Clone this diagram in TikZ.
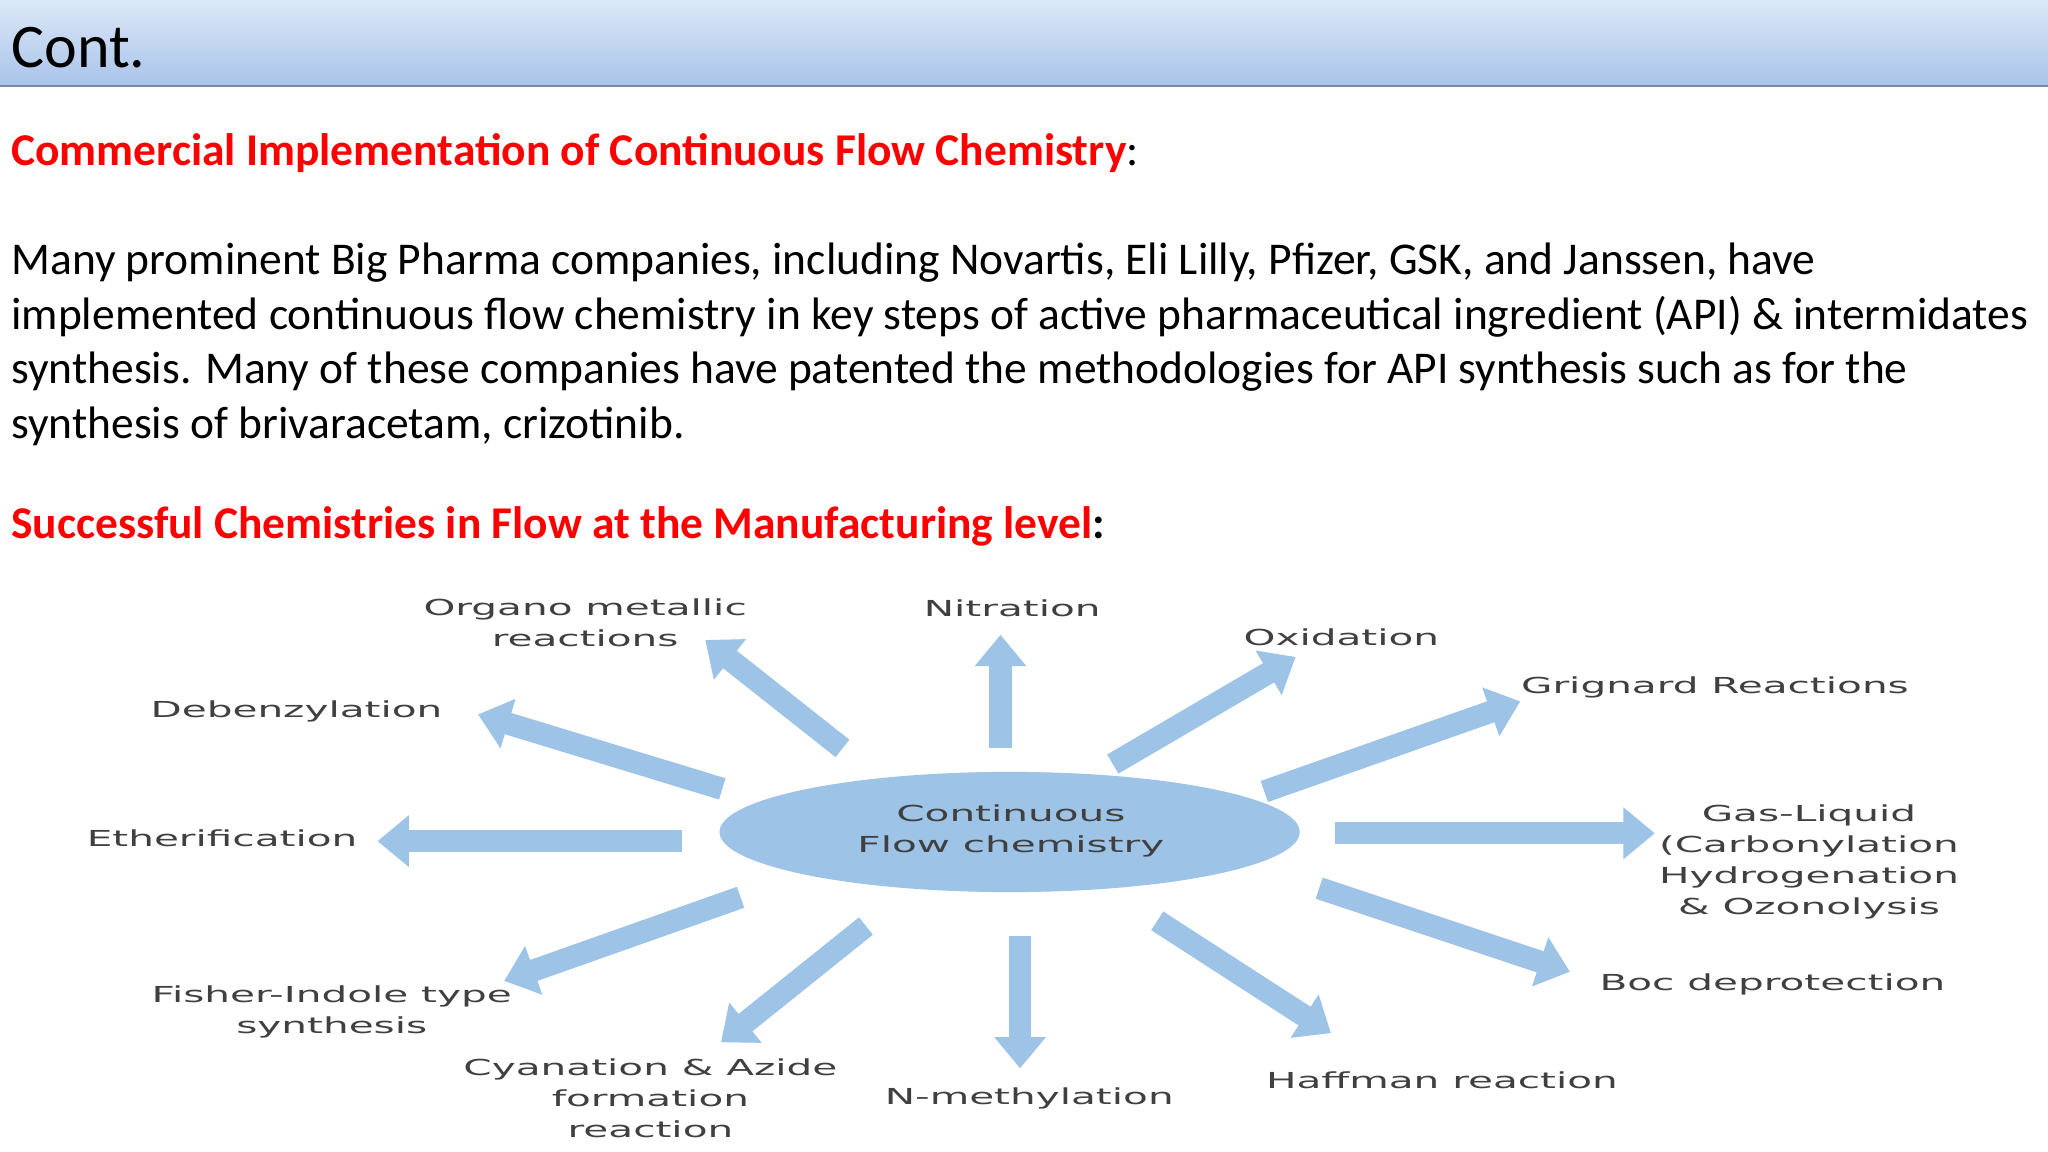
\documentclass[tikz,border=0pt]{standalone}
\usepackage{fontspec}
\setmainfont{Carlito}
\newfontfamily\lblfont{DejaVu Sans}
\usetikzlibrary{arrows.meta,shapes.geometric}
\definecolor{arrowblue}{HTML}{9DC3E6}
\definecolor{lblgray}{HTML}{404040}
\definecolor{hdtop}{HTML}{DCE8F8}
\definecolor{hdbot}{HTML}{A9C3EA}
\tikzset{
  flowarrow/.style={draw=arrowblue,line width=0.17cm,-{Triangle[width=0.38cm,length=0.24cm]}},
  lbl/.style={font=\lblfont\fontsize{4.8}{6.8}\selectfont,text=lblgray,align=center,inner sep=0},
  bodyline/.style={anchor=base west,font=\fontsize{9.9}{11}\selectfont,inner sep=0},
  redhead/.style={anchor=base west,font=\fontsize{9.9}{11}\selectfont\bfseries,inner sep=0},
}
\newcommand{\wide}[1]{\scalebox{1.84}[1]{#1}}
\begin{document}
\begin{tikzpicture}[x=0.01cm,y=-0.01cm]
\useasboundingbox (0,0) rectangle (1568,882);
\fill[white] (0,0) rectangle (1568,882);
% header
\shade[top color=hdtop, bottom color=hdbot] (0,0) rectangle (1568,66);
\draw[hdbot!70!black] (0,66) -- (1568,66);
\node[anchor=base west,inner sep=0,font=\fontsize{13.5}{15}\selectfont] (title) at (8,52) {Cont.};
% text
\node[redhead] (h1) at (8,127) {\textcolor{red}{Commercial Implementation of Continuous Flow Chemistry}\textcolor{black}{\mdseries :}};
\node[bodyline] (l1) at (8,210) {Many prominent Big Pharma companies, including Novartis, Eli Lilly, Pfizer, GSK, and Janssen, have};
\node[bodyline] (l2) at (8,252) {implemented continuous flow chemistry in key steps of active pharmaceutical ingredient (API) \& intermidates};
\node[bodyline] (l3) at (8,294) {synthesis. Many of these companies have patented the methodologies for API synthesis such as for the};
\node[bodyline] (l4) at (8,336) {synthesis of brivaracetam, crizotinib.};
\node[redhead] (h2) at (8,412) {\textcolor{red}{Successful Chemistries in Flow at the Manufacturing level}\textcolor{black}{:}};
% ellipse
\node[ellipse,fill=arrowblue,minimum width=4.44cm,minimum height=0.92cm,inner sep=0] (c) at (773,637) {};
\node[lbl] (ct) at (774,636) {\wide{Continuous}\\\wide{Flow chemistry}};
% arrow coordinates
\coordinate (a1s) at (645,573); \coordinate (a1e) at (540,490);
\coordinate (a2s) at (766,573); \coordinate (a2e) at (766,486);
\coordinate (a3s) at (852,585); \coordinate (a3e) at (992,503);
\coordinate (a4s) at (968,606); \coordinate (a4e) at (1164,537);
\coordinate (a5s) at (553,604); \coordinate (a5e) at (366,547);
\coordinate (a6s) at (522,644); \coordinate (a6e) at (289,644);
\coordinate (a7s) at (1022,638); \coordinate (a7e) at (1267,638);
\coordinate (a8s) at (567,687); \coordinate (a8e) at (386,751);
\coordinate (a9s) at (663,709); \coordinate (a9e) at (552,798);
\coordinate (a10s) at (781,717); \coordinate (a10e) at (781,818);
\coordinate (a11s) at (886,705); \coordinate (a11e) at (1019,791);
\coordinate (a12s) at (1010,680); \coordinate (a12e) at (1202,744);
\foreach \i in {1,...,12} {\draw[flowarrow] (a\i s) -- (a\i e);}
% labels
\node[lbl] (t1) at (448,477) {\wide{Organo metallic}\\\wide{reactions}};
\node[lbl] (t2) at (775,466) {\wide{Nitration}};
\node[lbl] (t3) at (1027,488) {\wide{Oxidation}};
\node[lbl] (t4) at (1313,526) {\wide{Grignard Reactions}};
\node[lbl] (t5) at (227,545) {\wide{Debenzylation}};
\node[lbl] (t6) at (170,642) {\wide{Etherification}};
\node[lbl] (t7) at (1385,660) {\wide{Gas-Liquid}\\\wide{(Carbonylation}\\\wide{Hydrogenation}\\\wide{\& Ozonolysis}};
\node[lbl] (t8) at (254,775) {\wide{Fisher-Indole type}\\\wide{synthesis}};
\node[lbl] (t9) at (498,841) {\wide{Cyanation \& Azide}\\\wide{formation}\\\wide{reaction}};
\node[lbl] (t10) at (788,841) {\wide{N-methylation}};
\node[lbl] (t11) at (1104,827) {\wide{Haffman reaction}};
\node[lbl] (t12) at (1357,754) {\wide{Boc deprotection}};
\end{tikzpicture}
\end{document}
